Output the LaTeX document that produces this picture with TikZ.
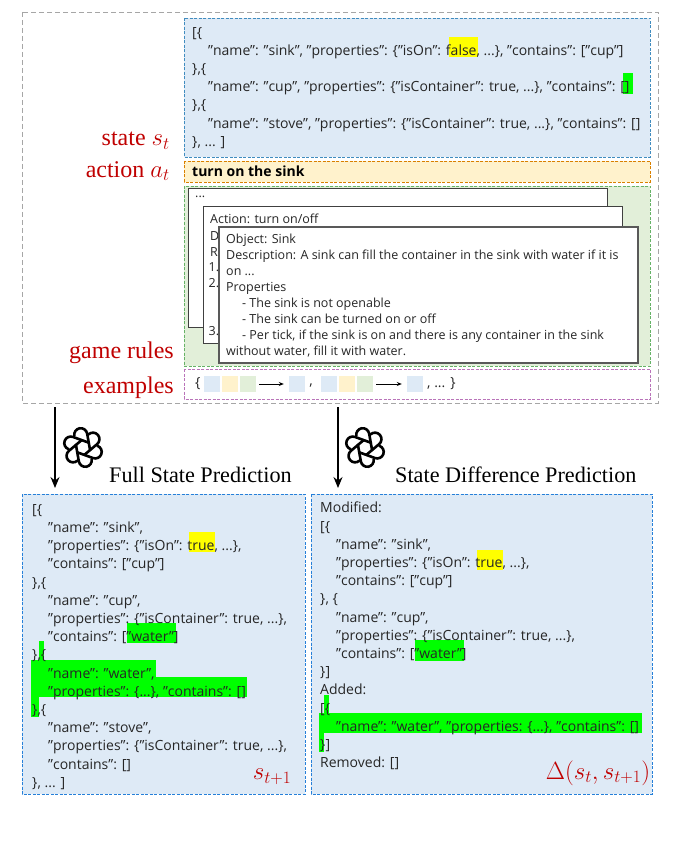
\documentclass[tikz,border=0pt]{standalone}
\usepackage{fontspec}
\setmainfont{Open Sans}
\newfontfamily\labelfont{Liberation Serif}
\usetikzlibrary{arrows.meta}
\definecolor{redc}{HTML}{C00000}
\definecolor{bluec}{HTML}{DEEAF6}
\definecolor{yellowc}{HTML}{FFF2CC}
\definecolor{greenc}{HTML}{E2EFD9}
\definecolor{hlgreen}{HTML}{00FF00}
\definecolor{hlyellow}{HTML}{FFFF00}
\tikzstyle{dashbox} = [
  dash pattern=on 3pt off 1.5pt,
  line width=0.9pt,
]
\tikzstyle{code} = [
  anchor=north west,
  align=left,
  inner sep=0pt,
  text=black!85,
  font=\fontsize{14}{18.2}\selectfont,
]
\tikzstyle{cardtext} = [
  anchor=north west,
  align=left,
  inner sep=0pt,
  text=black!85,
  font=\fontsize{12.5}{16}\selectfont,
]
\tikzstyle{card} = [draw=black!75, fill=white, line width=1pt]
\tikzstyle{side} = [
  anchor=east,
  inner sep=0pt,
  text=redc,
  font=\labelfont\fontsize{24}{24}\selectfont,
]
\tikzstyle{title} = [
  anchor=base west,
  inner sep=0pt,
  font=\labelfont\fontsize{22.2}{24}\selectfont,
]
\tikzstyle{swatch} = [minimum size=16pt, inner sep=0pt]
\tikzstyle{bigarrow} = [-{Stealth[length=11pt,width=9pt]}, line width=1.2pt]
\tikzstyle{smallarrow} = [-{Stealth[length=5pt,width=4pt]}, line width=0.9pt, shorten <=3pt, shorten >=5pt]
\newcommand{\ind}{\hspace*{16pt}}
\newcommand{\knot}[1]{%
  \foreach \a in {0,60,...,300} {
    \begin{scope}[shift={(#1)},rotate=\a+10,x=1pt,y=1pt]
      \draw[line width=2.6pt,line cap=round] (6.5,-3.7) -- (6.5,13) arc[start angle=0,end angle=180,radius=6.5];
    \end{scope}
  }
}

\begin{document}
\begin{tikzpicture}[x=1pt,y=-1pt]
      \useasboundingbox (0,0) rectangle (672,842);

      % Boxes
      \draw[line width=0.9pt,dash pattern=on 5pt off 3pt,draw=black!35] (22,12) rectangle (658,403);
      \draw[dashbox,draw=blue!40!cyan!50!gray,fill=bluec] (184,18) rectangle (650,157);
      \draw[dashbox,draw=orange!70!olive,fill=yellowc] (184,161) rectangle (650,182);
      \draw[dashbox,draw=green!50!black!60,fill=greenc] (184,186) rectangle (650,366);
      \draw[dashbox,draw=violet!55] (184,369) rectangle (650,399);
      \draw[dashbox,draw=blue!50!cyan!70!gray,fill=bluec] (22,494) rectangle (305,794);
      \draw[dashbox,draw=blue!50!cyan!70!gray,fill=bluec] (311,494) rectangle (652,794);

      % Highlights
      \fill[hlyellow] (449,37) rectangle (478,57);
      \fill[hlgreen] (623,73) rectangle (633,94);
      \fill[hlyellow] (189,532) rectangle (215,552);
      \fill[hlgreen] (127,623) rectangle (176,643);
      \fill[hlgreen] (39,641) rectangle (44,660);
      \fill[hlgreen] (31,660) rectangle (156,677);
      \fill[hlgreen] (31,677) rectangle (247,697);
      \fill[hlgreen] (31,697) rectangle (39,717);
      \fill[hlyellow] (477,550) rectangle (503,570);
      \fill[hlgreen] (415,640) rectangle (464,661);
      \fill[hlgreen] (324,695) rectangle (329,713);
      \fill[hlgreen] (319,713) rectangle (642,733);
      \fill[hlgreen] (319,733) rectangle (324,752);

      % Current state
      \node[code] (statetext) at (192,27) {%
        [\{\\
        \ind"name": "sink", "properties": \{"isOn": false, ...\}, "contains": ["cup"]\\
        \},\{\\
        \ind"name": "cup", "properties": \{"isContainer": true, ...\}, "contains": []\\
        \},\{\\
        \ind"name": "stove", "properties": \{"isContainer": true, ...\}, "contains": []\\
        \}, ... ]};
      \node[code,anchor=west,text=black,font=\fontsize{14}{18}\selectfont\bfseries] (actiontext) at (192,171) {turn on the sink};

      % Rule cards
      \draw[card] (188,189) rectangle (607,327);
      \node[cardtext] (dots) at (195,196) {...};
      \draw[card] (203,207) rectangle (622,343);
      \node[cardtext,anchor=west] (act) at (210,219) {Action: turn on/off};
      \node[cardtext,anchor=west] (actd) at (210,236) {D};
      \node[cardtext,anchor=west] (actr) at (210,252) {R};
      \node[cardtext,anchor=west] (acta) at (208.5,267) {1.};
      \node[cardtext,anchor=west] (actb) at (208.5,283) {2.};
      \node[cardtext,anchor=west] (actc) at (208.5,331) {3.};
      \draw[card,draw=black!65,line width=1.2pt] (219,227) rectangle (638,363);
      \node[cardtext] (sinktext) at (226,234) {%
        Object: Sink\\
        Description: A sink can fill the container in the sink with water if it is\\
        on ...\\
        Properties\\
        \ind- The sink is not openable\\
        \ind- The sink can be turned on or off\\
        \ind- Per tick, if the sink is on and there is any container in the sink\\
        without water, fill it with water.};

      % Examples
      \node[code,anchor=west] (openA) at (195,384) {\{};
      \node[swatch,fill=bluec] (exA) at (212,384) {};
      \node[swatch,fill=yellowc] (exB) at (230,384) {};
      \node[swatch,fill=greenc] (exC) at (248,384) {};
      \node[swatch,fill=bluec] (exD) at (297,384) {};
      \node[code,anchor=center] (commaA) at (311,386) {,};
      \node[swatch,fill=bluec] (exE) at (329,384) {};
      \node[swatch,fill=yellowc] (exF) at (347,384) {};
      \node[swatch,fill=greenc] (exG) at (365,384) {};
      \node[swatch,fill=bluec] (exH) at (415,384) {};
      \node[code,anchor=west] (closeA) at (427,384) {, ... \}};
      \draw[smallarrow] (exC.east) -- (exD.west);
      \draw[smallarrow] (exG.east) -- (exH.west);

      % Labels
      \node[side] (statelabel) at (170,141) {state $s_t$};
      \node[side] (actionlabel) at (170,171) {action $a_t$};
      \node[side] (ruleslabel) at (174,353) {game rules};
      \node[side] (exlabel) at (174,388) {examples};

      % Arrows and titles
      \coordinate (fullA) at (55,407);
      \coordinate (fullB) at (55,488);
      \coordinate (diffA) at (338,407);
      \coordinate (diffB) at (338,488);
      \draw[bigarrow] (fullA) -- (fullB);
      \draw[bigarrow] (diffA) -- (diffB);
      \knot{83,447.5}
      \knot{365,447.5}
      \node[title] (fulltitle) at (109,482) {Full State Prediction};
      \node[title] (difftitle) at (395,482) {State Difference Prediction};

      % Full state
      \node[code] (fulltext) at (32,504) {%
        [\{\\
        \ind"name": "sink",\\
        \ind"properties": \{"isOn": true, ...\},\\
        \ind"contains": ["cup"]\\
        \},\{\\
        \ind"name": "cup",\\
        \ind"properties": \{"isContainer": true, ...\},\\
        \ind"contains": ["water"]\\
        \},\{\\
        \ind"name": "water",\\
        \ind"properties": \{...\}, "contains": []\\
        \},\{\\
        \ind"name": "stove",\\
        \ind"properties": \{"isContainer": true, ...\},\\
        \ind"contains": []\\
        \}, ... ]};
      \node[side,anchor=center] (nextlabel) at (272,777) {$s_{t+1}$};

      % State difference
      \node[code] (difftext) at (320,502) {%
        Modified:\\
        {[}\{\\
        \ind"name": "sink",\\
        \ind"properties": \{"isOn": true, ...\},\\
        \ind"contains": ["cup"]\\
        \}, \{\\
        \ind"name": "cup",\\
        \ind"properties": \{"isContainer": true, ...\},\\
        \ind"contains": ["water"]\\
        \}]\\
        Added:\\
        {[}\{\\
        \ind"name": "water", "properties: \{...\}, "contains": []\\
        \}]\\
        Removed: []};
      \node[side,anchor=center] (difflabel) at (598,773) {$\Delta(s_t,s_{t+1})$};
\end{tikzpicture}
\end{document}
